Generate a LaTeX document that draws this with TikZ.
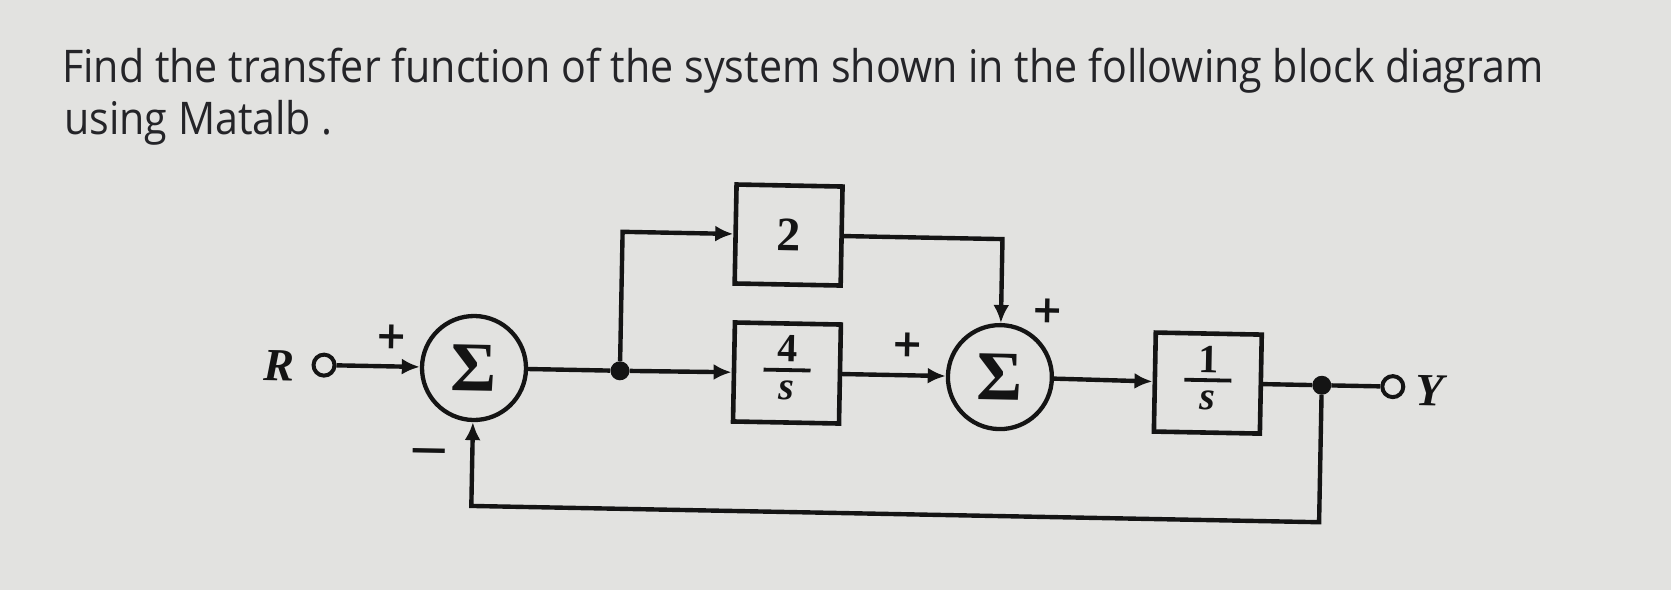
\documentclass[tikz,border=0pt]{standalone}
\usepackage{fontspec}
\setmainfont{Open Sans}
\newfontfamily\dfont{Liberation Serif}
\newfontfamily\sgnfont{DejaVu Sans}
\usetikzlibrary{arrows.meta,calc}
\definecolor{bg}{RGB}{226,226,224}
\definecolor{ink}{RGB}{20,20,20}
\definecolor{txt}{RGB}{36,36,40}
\newcommand{\fracbox}[2]{\vbox{\hbox to 47pt{\hss#1\hss}\kern6pt\hrule height 3.8pt\kern9pt\hbox to 47pt{\hss#2\hss}\kern10pt}}
\tikzset{
  blk/.style={draw=ink, line width=4.6pt, minimum width=106pt, minimum height=99pt, inner sep=0pt, text=ink},
  sumc/.style={draw=ink, circle, line width=4.3pt, minimum size=104pt, inner sep=0pt, text=ink,
               font=\dfont\bfseries\fontsize{70}{70}\selectfont},
  wire/.style={draw=ink, line width=4.4pt},
  arr/.style={wire, -{Latex[length=18pt,width=16pt]}},
  dotj/.style={circle, fill=ink, minimum size=19pt, inner sep=0pt},
  port/.style={circle, draw=ink, line width=4pt, minimum size=21pt, inner sep=0pt, fill=bg},
  sgn/.style={text=ink, inner sep=0pt, font=\sgnfont\bfseries\fontsize{38}{38}\selectfont},
  lbl/.style={text=ink, inner sep=0pt, font=\dfont\bfseries\itshape\fontsize{46}{46}\selectfont},
  ttl/.style={text=txt, inner sep=0pt, anchor=base west, font=\fontsize{45}{51}\selectfont},
}
\begin{document}
\begin{tikzpicture}[x=1pt,y=-1pt]
\fill[bg] (0,0) rectangle (1671,590);
\useasboundingbox (0,0) rectangle (1671,590);
\node[ttl] (t1) at (62,82) {\scalebox{0.915}[1]{Find the transfer function of the system shown in the following block diagram}};
\node[ttl] (t2) at (64,134) {\scalebox{0.915}[1]{using Matalb .}};
\begin{scope}[rotate around={-1.1:(474,368)}, transform shape]
  \node[lbl] (Rl) at (279,369) {R};
  \node[port] (R) at (324,368) {};
  \node[sumc] (S1) at (474,368) {Σ};
  \node[dotj] (J1) at (620,368) {};
  \node[blk, font=\dfont\bfseries\fontsize{48}{48}\selectfont] (B2) at (786,229) {2};
  \node[blk, font=\dfont\bfseries\fontsize{40}{40}\selectfont] (B4) at (787,367) {\fracbox{4}{\itshape s}};
  \node[sumc] (S2) at (1000,367) {Σ};
  \node[blk, font=\dfont\bfseries\fontsize{40}{40}\selectfont] (B1) at (1208,369) {\fracbox{1}{\itshape s}};
  \node[dotj] (J2) at (1322,369) {};
  \node[port] (Y) at (1393,369) {};
  \node[lbl] (Yl) at (1430,372) {Y};
  \coordinate (fb) at (1322,506);
  \node[sgn] (p1) at (391,338) {+};
  \node[sgn] (m1) at (431,457) {\scalebox{1.35}[1]{−}};
  \node[sgn] (p2) at (907,337) {+};
  \node[sgn] (p3) at (1046,300) {+};
  \draw[arr] (R) -- (S1);
  \draw[wire] (S1) -- (J1);
  \draw[arr] (J1) -- (B4);
  \draw[arr] (J1) |- (B2);
  \draw[arr] (B2.east) -| (S2.north);
  \draw[arr] (B4) -- (S2);
  \draw[arr] (S2) -- (B1);
  \draw[wire] (B1) -- (J2);
  \draw[wire] (J2) -- (Y);
  \draw[arr] (J2) -- (fb) -| (S1.south);
\end{scope}
\end{tikzpicture}
\end{document}
